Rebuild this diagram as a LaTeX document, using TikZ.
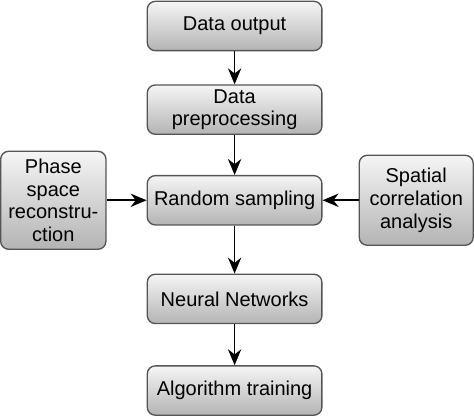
\documentclass[tikz,border=0pt]{standalone}
\usepackage{fontspec}
\setmainfont{Liberation Sans}
\usepackage{tikz}
\usetikzlibrary{arrows.meta, positioning}
\definecolor{boxtop}{RGB}{245,245,245}
\definecolor{boxbottom}{RGB}{180,180,180}
\definecolor{boxline}{RGB}{85,85,85}
\tikzset{
    block/.style={
        rectangle,
        rounded corners=6pt,
        draw=boxline,
        line width=1pt,
        top color=boxtop,
        bottom color=boxbottom,
        text centered,
        align=center,
        inner sep=2pt,
        minimum width=131pt,
        minimum height=37pt,
        font=\fontsize{15}{17}\selectfont
    },
    sideblock/.style={
        block,
        minimum width=79pt
    },
    connection/.style={
        draw=black,
        line width=1.2pt,
        -{Stealth[length=12pt, width=10pt]}
    }
}
\begin{document}
\begin{tikzpicture}

% Main chain
\node[block] (output) at (0,0) {Data output};
\node[block, below=24.75pt of output] (preproc) {Data\\preprocessing};
\node[block, below=30pt of preproc] (sampling) {Random sampling};
\node[block, below=36pt of sampling] (network) {Neural Networks};
\node[block, below=30.75pt of network] (training) {Algorithm training};

% Side inputs
\node[sideblock, minimum height=73.5pt, left=30pt of sampling] (phase) {Phase\\space\\reconstru-\\ction};
\node[sideblock, minimum width=85.5pt, minimum height=67.5pt, right=27pt of sampling] (spatial) {Spatial\\correlation\\analysis};

% Connections
\draw[connection] (output) -- (preproc);
\draw[connection] (preproc) -- (sampling);
\draw[connection] (sampling) -- (network);
\draw[connection] (network) -- (training);
\draw[connection] (phase) -- (sampling);
\draw[connection] (spatial) -- (sampling);

\useasboundingbox (-175.9pt,19.5pt) rectangle (179.6pt,-289.5pt);

\end{tikzpicture}
\end{document}
